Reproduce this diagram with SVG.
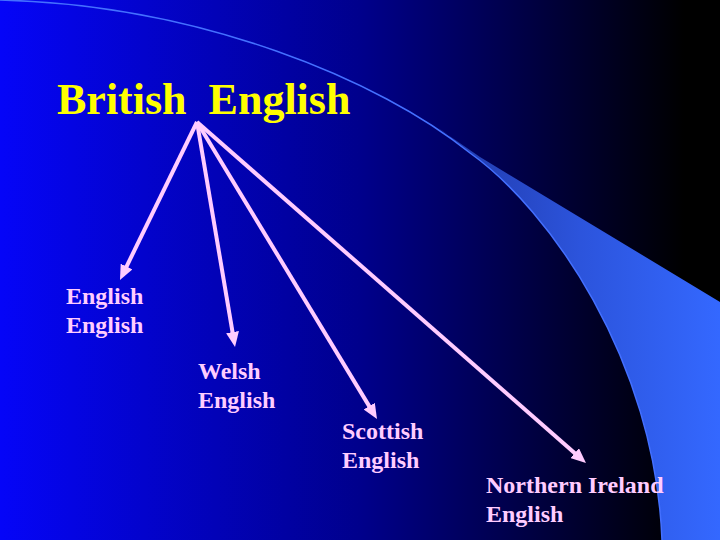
<svg xmlns="http://www.w3.org/2000/svg" width="720" height="540" viewBox="0 0 720 540">
  <defs>
    <linearGradient id="bg" x1="0" y1="0" x2="720" y2="0" gradientUnits="userSpaceOnUse">
      <stop offset="0" stop-color="#0505f8"/>
      <stop offset="0.5" stop-color="#00008c"/>
      <stop offset="0.95" stop-color="#000000"/>
    </linearGradient>
    <linearGradient id="band" x1="440" y1="0" x2="720" y2="0" gradientUnits="userSpaceOnUse">
      <stop offset="0" stop-color="#2038a8"/>
      <stop offset="0.5" stop-color="#2c54dc"/>
      <stop offset="1" stop-color="#3468ff"/>
    </linearGradient>
    <marker id="head" viewBox="0 0 15 13" refX="4" refY="6.5" markerWidth="15" markerHeight="13" markerUnits="userSpaceOnUse" orient="auto">
      <path d="M0,0 L15,6.5 L0,13 z" fill="#ffccff"/>
    </marker>
    <style>
      .title { font-family: "Liberation Serif", "Times New Roman", serif; font-weight: bold; font-size: 44px; fill: #ffff00; white-space: pre; }
      .label { font-family: "Liberation Serif", "Times New Roman", serif; font-weight: bold; font-size: 24px; fill: #ffccff; }
      .conn { stroke: #ffccff; stroke-width: 4; fill: none; marker-end: url(#head); }
    </style>
  </defs>

  <rect x="0" y="0" width="720" height="540" fill="url(#bg)"/>
  <path d="M438,128 L480,157 L720,302 L720,540 L662,540 C655,360 550,210 470,153 C462,147 450,135 438,128 Z" fill="url(#band)"/>
  <path d="M0,0 C200,5 380,80 470,153 C550,210 655,360 662,540" fill="none" stroke="#4470ff" stroke-width="1.5"/>

  <g id="title">
    <text class="title" x="57" y="114" xml:space="preserve">British  English</text>
  </g>

  <g id="connectors">
    <line class="conn" x1="197" y1="122" x2="124.8" y2="270.1"/>
    <line class="conn" x1="197" y1="122" x2="233.2" y2="336.1"/>
    <line class="conn" x1="197" y1="122" x2="371.3" y2="409.6"/>
    <line class="conn" x1="197" y1="122" x2="577.7" y2="455.8"/>
  </g>

  <g id="n-english">
    <text class="label" x="66" y="304">English</text>
    <text class="label" x="66" y="333">English</text>
  </g>
  <g id="n-welsh">
    <text class="label" x="198" y="379">Welsh</text>
    <text class="label" x="198" y="408">English</text>
  </g>
  <g id="n-scottish">
    <text class="label" x="342" y="439">Scottish</text>
    <text class="label" x="342" y="468">English</text>
  </g>
  <g id="n-ni">
    <text class="label" x="486" y="493">Northern Ireland</text>
    <text class="label" x="486" y="522">English</text>
  </g>
</svg>
